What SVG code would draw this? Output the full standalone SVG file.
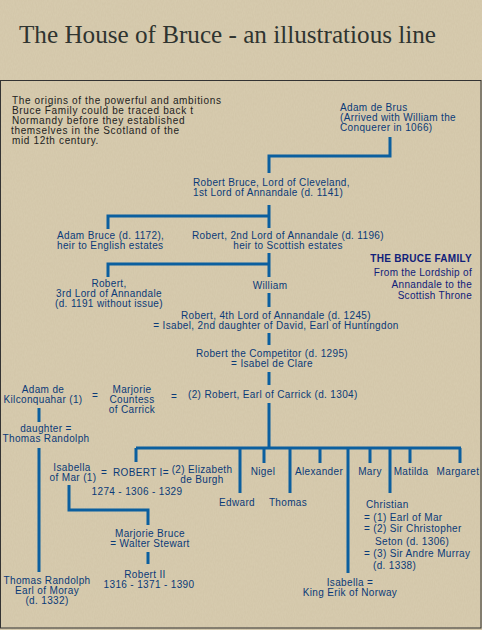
<svg xmlns="http://www.w3.org/2000/svg" width="482" height="630" viewBox="0 0 482 630">
<defs>
<filter id="paper" x="0" y="0" width="100%" height="100%">
<feTurbulence type="fractalNoise" baseFrequency="0.9 0.35" numOctaves="2" seed="3" result="n"/>
<feColorMatrix in="n" type="matrix" values="0 0 0 0 0.55  0 0 0 0 0.48  0 0 0 0 0.33  0 0 0 0.35 0" result="c"/>
<feComposite in="c" in2="SourceGraphic" operator="over"/>
</filter>
<style>
.t{font-family:"Liberation Sans",Arial,sans-serif;font-size:10px;fill:#0a3a78;letter-spacing:0.35px}
.m{text-anchor:middle}
.i{font-family:"Liberation Sans",Arial,sans-serif;font-size:10px;fill:#222;letter-spacing:0.65px}
.h{font-family:"Liberation Sans",Arial,sans-serif;font-size:10px;fill:#10207a;text-anchor:end;letter-spacing:0.3px}
.c{fill:none;stroke:#0b5f9f;stroke-width:3}
</style>
</defs>
<rect x="0" y="0" width="482" height="630" fill="#d8ccaf" filter="url(#paper)"/>
<text x="19" y="43" font-family="Liberation Serif,serif" font-size="25" fill="#2f3430" textLength="417" lengthAdjust="spacingAndGlyphs">The House of Bruce - an illustratious line</text>
<rect x="0.5" y="80.5" width="480.5" height="547.5" fill="none" stroke="#333" stroke-width="1"/>

<g id="intro">
<text class="i" x="12" y="104">The origins of the powerful and ambitions</text>
<text class="i" x="12" y="114">Bruce Family could be traced back t</text>
<text class="i" x="12" y="124">Normandy before they established</text>
<text class="i" x="11" y="134">themselves in the Scotland of the</text>
<text class="i" x="12" y="144">mid 12th century.</text>
</g>

<g id="legend">
<text class="h" x="472" y="262" font-weight="bold" font-size="11" letter-spacing="0.6">THE BRUCE FAMILY</text>
<text class="h" x="472" y="276">From the Lordship of</text>
<text class="h" x="472" y="288">Annandale to the</text>
<text class="h" x="472" y="299">Scottish Throne</text>
</g>

<g id="connectors">
<path class="c" d="M390,137 V156 H269 V173"/>
<path class="c" d="M269,205 V228 M108,229 V216 H269"/>
<path class="c" d="M269,253 V277 M108,277 V264 H269"/>
<path class="c" d="M269,293 V307"/>
<path class="c" d="M269,333 V345"/>
<path class="c" d="M269,372 V385"/>
<path class="c" d="M39,408 V422"/>
<path class="c" d="M269,403 V448 M136,448 H461"/>
<path class="c" d="M136,448 V462 M240,448 V493 M264,448 V463 M290,448 V493 M320,448 V463 M348,448 V573 M370,448 V463 M390,448 V493 M410,448 V463 M460,448 V463"/>
<path class="c" d="M39,448 V572"/>
<path class="c" d="M69,485 V510 H148 V525"/>
<path class="c" d="M148,552 V564"/>
</g>

<g id="adam-de-brus">
<text class="t" x="340" y="111">Adam de Brus</text>
<text class="t" x="340" y="121">(Arrived with William the</text>
<text class="t" x="340" y="131">Conquerer in 1066)</text>
</g>
<g id="robert-cleveland">
<text class="t" x="193" y="186">Robert Bruce, Lord of Cleveland,</text>
<text class="t" x="193" y="196">1st Lord of Annandale (d. 1141)</text>
</g>
<g id="adam-bruce">
<text class="t" x="57" y="239">Adam Bruce (d. 1172),</text>
<text class="t" x="57" y="249">heir to English estates</text>
</g>
<g id="robert-2nd">
<text class="t m" x="288" y="239">Robert, 2nd Lord of Annandale (d. 1196)</text>
<text class="t m" x="288" y="249">heir to Scottish estates</text>
</g>
<g id="robert-3rd">
<text class="t m" x="109" y="287">Robert,</text>
<text class="t m" x="109" y="297">3rd Lord of Annandale</text>
<text class="t m" x="109" y="307">(d. 1191 without issue)</text>
</g>
<g id="william">
<text class="t m" x="270" y="289">William</text>
</g>
<g id="robert-4th">
<text class="t m" x="276" y="319">Robert, 4th Lord of Annandale (d. 1245)</text>
<text class="t m" x="276" y="329">= Isabel, 2nd daughter of David, Earl of Huntingdon</text>
</g>
<g id="competitor">
<text class="t m" x="272" y="357">Robert the Competitor (d. 1295)</text>
<text class="t m" x="272" y="367">= Isabel de Clare</text>
</g>
<g id="adam-kilconquahar">
<text class="t m" x="43" y="393">Adam de</text>
<text class="t m" x="43" y="403">Kilconquahar (1)</text>
<text class="t m" x="95" y="399">=</text>
</g>
<g id="marjorie-carrick">
<text class="t m" x="132" y="393">Marjorie</text>
<text class="t m" x="132" y="403">Countess</text>
<text class="t m" x="132" y="413">of Carrick</text>
<text class="t m" x="174" y="400">=</text>
</g>
<g id="robert-carrick">
<text class="t" x="188" y="398">(2) Robert, Earl of Carrick (d. 1304)</text>
</g>
<g id="daughter">
<text class="t m" x="46" y="432">daughter =</text>
<text class="t m" x="46" y="442">Thomas Randolph</text>
</g>
<g id="thomas-randolph">
<text class="t m" x="47" y="584">Thomas Randolph</text>
<text class="t m" x="47" y="594">Earl of Moray</text>
<text class="t m" x="47" y="604">(d. 1332)</text>
</g>
<g id="isabella-mar">
<text class="t m" x="72" y="471">Isabella</text>
<text class="t m" x="73" y="481">of Mar (1)</text>
<text class="t m" x="104" y="476">=</text>
</g>
<g id="robert-i">
<text class="t" x="113" y="476" letter-spacing="0.7">ROBERT I=</text>
<text class="t m" x="137" y="495">1274 - 1306 - 1329</text>
</g>
<g id="elizabeth">
<text class="t m" x="202" y="473">(2) Elizabeth</text>
<text class="t m" x="202" y="483">de Burgh</text>
</g>
<g id="edward"><text class="t m" x="237" y="506">Edward</text></g>
<g id="nigel"><text class="t m" x="263" y="475">Nigel</text></g>
<g id="thomas"><text class="t m" x="288" y="506">Thomas</text></g>
<g id="alexander"><text class="t m" x="319" y="475">Alexander</text></g>
<g id="mary"><text class="t m" x="370" y="475">Mary</text></g>
<g id="matilda"><text class="t m" x="411" y="475">Matilda</text></g>
<g id="margaret"><text class="t m" x="458" y="475">Margaret</text></g>
<g id="christian">
<text class="t" x="366" y="508">Christian</text>
<text class="t" x="364" y="521">= (1) Earl of Mar</text>
<text class="t" x="364" y="532">= (2) Sir Christopher</text>
<text class="t" x="375" y="545">Seton (d. 1306)</text>
<text class="t" x="364" y="557">= (3) Sir Andre Murray</text>
<text class="t" x="373" y="569">(d. 1338)</text>
</g>
<g id="isabella-norway">
<text class="t m" x="350" y="586">Isabella =</text>
<text class="t m" x="350" y="596">King Erik of Norway</text>
</g>
<g id="marjorie-bruce">
<text class="t m" x="150" y="537">Marjorie Bruce</text>
<text class="t m" x="150" y="547">= Walter Stewart</text>
</g>
<g id="robert-ii">
<text class="t m" x="145" y="578">Robert II</text>
<text class="t m" x="149" y="588">1316 - 1371 - 1390</text>
</g>
</svg>
